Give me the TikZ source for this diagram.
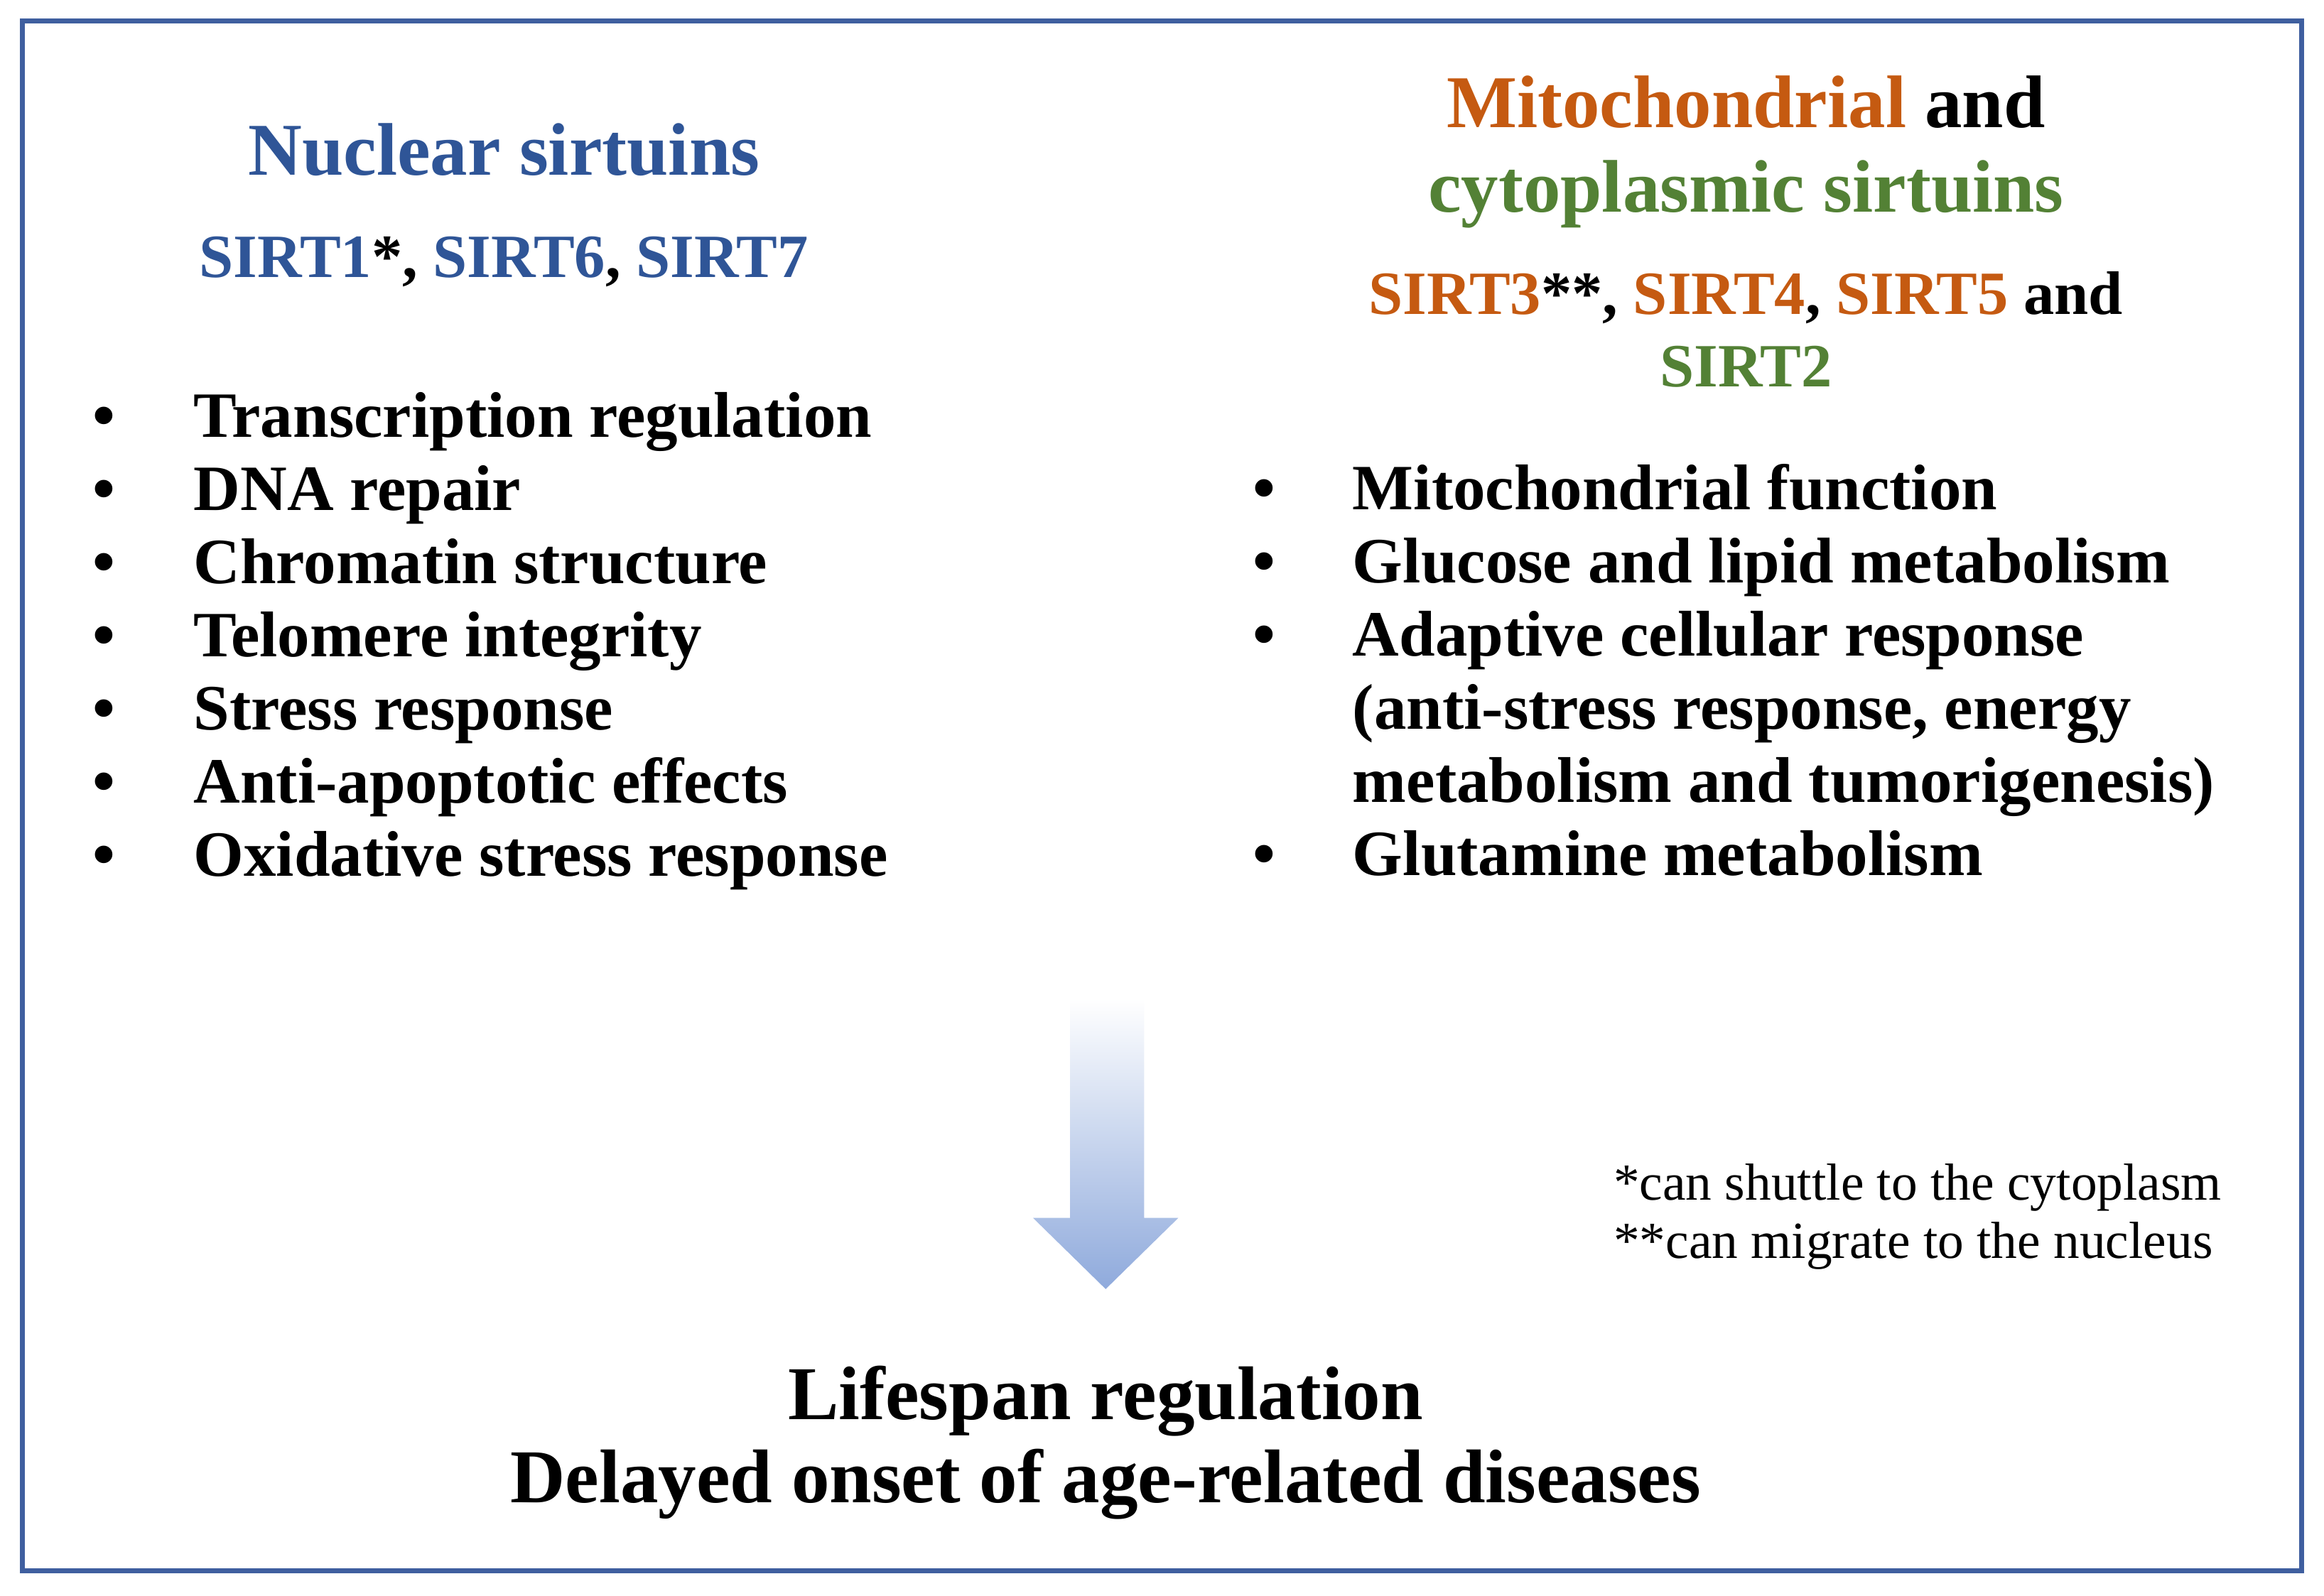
\documentclass[tikz,border=0pt]{standalone}
\usepackage{fontspec}
\setmainfont{Liberation Serif}
\definecolor{nb}{HTML}{2F5597}
\definecolor{mo}{HTML}{C55A11}
\definecolor{cg}{HTML}{538135}
\definecolor{fr}{HTML}{3F5F9F}
\definecolor{ab}{HTML}{8FAADC}
\begin{document}
\begin{tikzpicture}[x=0.01cm,y=-0.01cm,
  item/.style={anchor=base west,font=\bfseries\fontsize{12.4}{15}\selectfont,inner sep=0},
  bul/.style={anchor=base,font=\bfseries\fontsize{12.4}{15}\selectfont,inner sep=0},
  head/.style={font=\bfseries\fontsize{14.3}{17}\selectfont,inner sep=0,anchor=base},
  sub/.style={font=\bfseries\fontsize{11.8}{14}\selectfont,inner sep=0,anchor=base},
  bot/.style={font=\bfseries\fontsize{14.6}{17}\selectfont,inner sep=0,anchor=base},
  foot/.style={anchor=base west,font=\fontsize{10}{12}\selectfont,inner sep=0}]
\useasboundingbox (0,0) rectangle (1568,1077);
\draw[fr,line width=1pt] (15,14) rectangle (1553,1060);
\node[head,text=nb] (t1) at (340,118) {Nuclear sirtuins};
\node[sub] (s1) at (340,187) {\textcolor{nb}{SIRT1}*, \textcolor{nb}{SIRT6}, \textcolor{nb}{SIRT7}};
\foreach \t [count=\i from 0] in {Transcription regulation,DNA repair,Chromatin structure,Telomere integrity,Stress response,Anti-apoptotic effects,Oxidative stress response}{
  \node[bul] (lb\i) at (70,{295+49.4*\i}) {•};
  \node[item] (l\i) at (130,{295+49.4*\i}) {\t};
}
\node[head,text=mo] (t2) at (1178,86) {Mitochondrial \textcolor{black}{and}};
\node[head,text=cg] (t3) at (1178,143) {cytoplasmic sirtuins};
\node[sub] (s2) at (1178,212) {\textcolor{mo}{SIRT3}**, \textcolor{mo}{SIRT4}, \textcolor{mo}{SIRT5} and};
\node[sub,text=cg] (s3) at (1178,261) {SIRT2};
\foreach \t/\y in {Mitochondrial function/344,Glucose and lipid metabolism/393.4,Adaptive cellular response/442.8,Glutamine metabolism/591}{
  \node[bul] at (853,\y) {•};
  \node[item] at (912,\y) {\t};
}
\node[item] (r3) at (912,492.2) {(anti-stress response, energy};
\node[item] (r4) at (912,541.6) {metabolism and tumorigenesis)};
\shade[top color=white,bottom color=ab] (722,674) -- (772,674) -- (772,822) -- (795,822) -- (746,870) -- (697,822) -- (722,822) -- cycle;
\node[foot] (f1) at (1088,810) {*can shuttle to the cytoplasm};
\node[foot] (f2) at (1088,849) {**can migrate to the nucleus};
\node[bot] (b1) at (746,958) {Lifespan regulation};
\node[bot] (b2) at (746,1014) {Delayed onset of age-related diseases};
\end{tikzpicture}
\end{document}
